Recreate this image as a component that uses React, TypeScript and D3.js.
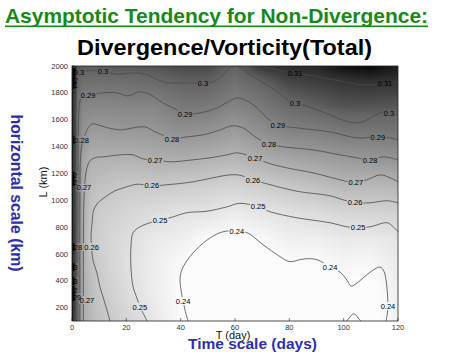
import React, { useMemo } from "react";
import * as d3 from "d3";

// ---------- text ----------
const TITLE = "Asymptotic Tendency for Non-Divergence:";
const SUBTITLE = "Divergence/Vorticity(Total)";
const X_LABEL = "T (day)";
const Y_LABEL = "L (km)";
const X_CAPTION = "Time scale (days)";
const Y_CAPTION = "horizontal scale (km)";

// ---------- axes ----------
const T_TICKS = [0, 20, 40, 60, 80, 100, 120];
const L_TICKS = [200, 400, 600, 800, 1000, 1200, 1400, 1600, 1800, 2000];

// ---------- background field (ratio), rows by L, columns by T ----------
const GRID_T = [0, 1, 2, 4, 7, 10, 15, 20, 30, 40, 50, 60, 70, 80, 90, 100, 110, 120];
const GRID_L = [100, 300, 500, 700, 900, 1100, 1300, 1500, 1700, 1900, 2000];
const ROW_100 = [0.36, 0.31, 0.293, 0.2715, 0.267, 0.263, 0.2593, 0.2557, 0.2484, 0.2408, 0.237, 0.236, 0.236, 0.236, 0.236, 0.237, 0.238, 0.244];
const ROW_300 = [0.36, 0.31, 0.293, 0.2715, 0.2656, 0.261, 0.2567, 0.253, 0.246, 0.2402, 0.237, 0.236, 0.236, 0.237, 0.237, 0.238, 0.238, 0.245];
const ROW_500 = [0.36, 0.31, 0.293, 0.2715, 0.2633, 0.259, 0.255, 0.2515, 0.2457, 0.2405, 0.238, 0.237, 0.238, 0.2395, 0.239, 0.242, 0.2407, 0.247];
const ROW_700 = [0.36, 0.31, 0.293, 0.2715, 0.26, 0.258, 0.2545, 0.252, 0.247, 0.245, 0.24, 0.239, 0.241, 0.2446, 0.245, 0.2472, 0.2468, 0.249];
const ROW_900 = [0.36, 0.31, 0.293, 0.2715, 0.2622, 0.2585, 0.257, 0.255, 0.2522, 0.25, 0.2493, 0.2463, 0.2486, 0.2507, 0.2526, 0.2546, 0.2554, 0.2562];
const ROW_1100 = [0.36, 0.31, 0.293, 0.272, 0.265, 0.2633, 0.2614, 0.26, 0.2597, 0.2588, 0.2574, 0.2561, 0.2581, 0.261, 0.2635, 0.2668, 0.2664, 0.2676];
const ROW_1300 = [0.36, 0.31, 0.293, 0.275, 0.27, 0.2693, 0.2689, 0.2684, 0.27, 0.2704, 0.269, 0.267, 0.2705, 0.2738, 0.2758, 0.2781, 0.2795, 0.28];
const ROW_1500 = [0.36, 0.31, 0.293, 0.281, 0.278, 0.2775, 0.2782, 0.2785, 0.2793, 0.2819, 0.2804, 0.2774, 0.2825, 0.287, 0.2885, 0.2913, 0.292, 0.2928];
const ROW_1700 = [0.36, 0.31, 0.295, 0.287, 0.2863, 0.286, 0.2863, 0.2866, 0.2869, 0.2921, 0.2918, 0.2874, 0.292, 0.2978, 0.3009, 0.3035, 0.3034, 0.3027];
const ROW_1900 = [0.36, 0.315, 0.3, 0.2969, 0.2964, 0.2961, 0.2968, 0.2969, 0.2986, 0.3012, 0.3013, 0.296, 0.3016, 0.3073, 0.3089, 0.3107, 0.3117, 0.3108];
const ROW_2000 = [0.36, 0.318, 0.303, 0.302, 0.302, 0.302, 0.303, 0.303, 0.304, 0.306, 0.306, 0.3, 0.31, 0.312, 0.313, 0.318, 0.32, 0.315];
const GRID_V = [ROW_100, ROW_300, ROW_500, ROW_700, ROW_900, ROW_1100, ROW_1300, ROW_1500, ROW_1700, ROW_1900, ROW_2000];

// ---------- contour lines: [T (day), L (km)] ----------
const LINE_033 = [[0.45, 100], [0.45, 2000]];
const LINE_032 = [[0.7, 100], [0.7, 2000]];
const LINE_031_LEFT = [[1.0, 100], [1.0, 2000]];
const LINE_031 = [[69.9, 2000], [72.9, 1985], [77.3, 1963], [82.1, 1948], [91.3, 1918], [100.5, 1881], [107.9, 1859], [115.2, 1874], [120, 1881]];
const LINE_030 = [[1.5, 100], [1.5, 1003], [1.5, 1747], [1.8, 1896], [2.9, 1948], [5.9, 1963], [11.4, 1963], [14.0, 1948], [16.9, 1940], [23.2, 1948], [28.0, 1933], [31.7, 1896], [35.3, 1874], [39.0, 1874], [44.5, 1874], [48.2, 1874], [51.9, 1881], [55.2, 1926], [58.2, 1985], [60.4, 1996], [62.9, 1978], [65.5, 1933], [69.2, 1888], [72.9, 1844], [76.6, 1792], [79.5, 1747], [82.1, 1725], [85.0, 1710], [90.2, 1673], [95.0, 1636], [100.5, 1591], [104.9, 1576], [107.9, 1591], [110.4, 1621], [114.5, 1658], [116.7, 1651], [120, 1636]];
const LINE_029 = [[2.2, 100], [2.2, 1003], [2.4, 1598], [2.8, 1725], [3.7, 1777], [5.9, 1784], [9.2, 1795], [14.0, 1803], [16.9, 1799], [20.6, 1777], [24.7, 1807], [28.7, 1788], [33.5, 1725], [38.7, 1673], [41.6, 1643], [47.1, 1650], [53.4, 1688], [57.4, 1732], [60.7, 1762], [64.4, 1740], [68.1, 1688], [71.8, 1613], [75.8, 1561], [82.8, 1539], [95.0, 1509], [104.9, 1464], [112.6, 1472], [117.1, 1464], [120, 1450]];
const LINE_028 = [[2.9, 100], [2.9, 1003], [3.1, 1301], [3.7, 1412], [4.8, 1487], [5.9, 1539], [7.7, 1569], [9.6, 1561], [13.3, 1539], [18.0, 1524], [22.5, 1539], [26.9, 1546], [30.6, 1509], [34.2, 1479], [36.8, 1457], [42.3, 1472], [48.2, 1487], [54.5, 1524], [58.9, 1554], [62.9, 1539], [68.1, 1464], [72.5, 1420], [77.7, 1398], [88.7, 1375], [98.7, 1338], [104.9, 1316], [109.7, 1301], [114.5, 1323], [120, 1301]];
const LINE_027 = [[4.2, 100], [4.2, 631], [4.4, 1003], [4.8, 1152], [5.5, 1242], [6.6, 1293], [8.8, 1319], [11.4, 1323], [17.7, 1338], [22.5, 1338], [26.1, 1308], [30.6, 1301], [36.1, 1286], [44.5, 1301], [50.8, 1316], [57.1, 1338], [60.7, 1353], [67.4, 1316], [71.8, 1279], [79.1, 1241], [88.7, 1204], [98.7, 1152], [104.5, 1130], [108.6, 1152], [113.4, 1189], [117.1, 1167], [120, 1137]];
const LINE_026 = [[14.0, 100], [12.1, 234], [10.3, 353], [9.2, 457], [7.7, 554], [7.2, 651], [7.0, 743], [7.4, 832], [7.9, 921], [9.2, 973], [11.8, 1018], [15.8, 1070], [20.2, 1100], [23.9, 1119], [29.4, 1108], [35.0, 1115], [44.5, 1137], [51.9, 1167], [58.2, 1189], [61.8, 1186], [66.6, 1152], [71.8, 1122], [82.8, 1067], [95.0, 1033], [99.8, 1003], [104.2, 981], [109.7, 981], [116.0, 996], [120, 981]];
const LINE_025 = [[27.6, 100], [26.9, 130], [25.0, 205], [23.9, 271], [22.5, 353], [21.7, 502], [21.7, 651], [22.5, 758], [25.0, 802], [29.8, 839], [32.4, 854], [36.1, 869], [42.3, 907], [49.7, 918], [57.1, 951], [61.8, 977], [68.5, 951], [72.9, 914], [82.8, 869], [95.0, 832], [101.2, 802], [105.3, 795], [109.7, 802], [116.0, 832], [118.2, 802], [120, 765]];
const LINE_024 = [[42.7, 100], [41.6, 182], [40.9, 249], [40.1, 334], [39.8, 427], [40.9, 502], [44.5, 606], [49.7, 703], [54.5, 758], [58.2, 772], [60.7, 765], [64.4, 758], [70.3, 669], [76.6, 579], [80.2, 542], [83.9, 557], [86.5, 564], [90.2, 557], [95.0, 502], [98.7, 464], [101.2, 405], [102.7, 360], [104.9, 383], [107.1, 420], [110.8, 479], [113.4, 502], [114.8, 472], [115.6, 405], [116.0, 331], [116.3, 212], [116.0, 145], [115.6, 100]];
const LINE_024_BUMP = [[101.2, 100], [102.3, 130], [103.4, 152], [104.5, 145], [105.6, 115], [106.3, 100]];

// ---------- inline labels: [T, L] ----------
const LAB_031 = [[82.1, 1948], [115.2, 1874]];
const LAB_030 = [[2.6, 1955], [11.4, 1963], [48.2, 1874], [82.1, 1725], [116.7, 1651]];
const LAB_029 = [[5.9, 1784], [41.6, 1643], [75.8, 1561], [112.6, 1472]];
const LAB_028 = [[3.5, 1450], [36.8, 1457], [72.5, 1420], [109.7, 1301]];
const LAB_027 = [[4.4, 1093], [5.5, 256], [30.6, 1301], [67.4, 1316], [104.5, 1130]];
const LAB_026 = [[7.2, 651], [29.4, 1108], [66.6, 1152], [104.2, 981]];
const LAB_025 = [[25.0, 205], [32.4, 854], [68.5, 951], [105.3, 795]];
const LAB_024 = [[40.9, 249], [60.7, 765], [95.0, 502], [116.3, 212]];

// crowded labels at the left edge: only their last digits show beside the dark strip
const EDGE_TEXT = ["2", "1", "2", "2", "28", "3", "3", "2", "29"];
const EDGE_POS = [[1.4, 1896], [1.4, 1859], [1.2, 1182], [1.2, 1137], [2.2, 651], [1.3, 502], [1.3, 398], [1.3, 331], [1.8, 279]];

const LINES = [LINE_033, LINE_032, LINE_031_LEFT, LINE_031, LINE_030, LINE_029, LINE_028, LINE_027, LINE_026, LINE_025, LINE_024, LINE_024_BUMP];
const LABEL_SETS: [string, number[][]][] = [
  ["0.31", LAB_031], ["0.3", LAB_030], ["0.29", LAB_029],
  ["0.28", LAB_028], ["0.27", LAB_027], ["0.26", LAB_026], ["0.25", LAB_025], ["0.24", LAB_024],
];

function field(t: number, l: number): number {
  let i = d3.bisectRight(GRID_T, t) - 1;
  i = Math.max(0, Math.min(GRID_T.length - 2, i));
  let j = d3.bisectRight(GRID_L, l) - 1;
  j = Math.max(0, Math.min(GRID_L.length - 2, j));
  const ft = Math.max(0, Math.min(1, (t - GRID_T[i]) / (GRID_T[i + 1] - GRID_T[i])));
  const fl = Math.max(0, Math.min(1, (l - GRID_L[j]) / (GRID_L[j + 1] - GRID_L[j])));
  const a = GRID_V[j][i] * (1 - ft) + GRID_V[j][i + 1] * ft;
  const b = GRID_V[j + 1][i] * (1 - ft) + GRID_V[j + 1][i + 1] * ft;
  return a * (1 - fl) + b * fl;
}

const FONT = "'Liberation Sans', Arial, Helvetica, sans-serif";

export default function App() {
  const W = 474, H = 355;
  const P = { left: 72, right: 398, top: 66, bottom: 321 };
  const x = d3.scaleLinear().domain([0, 120]).range([P.left, P.right]);
  const y = d3.scaleLinear().domain([100, 2000]).range([P.bottom, P.top]);
  const gray = d3.scaleLinear<number>().domain([0.24, 0.3, 0.32]).range([252, 100, 5]).clamp(true);

  const bg = useMemo(() => {
    const w = P.right - P.left, h = P.bottom - P.top;
    const c = document.createElement("canvas");
    c.width = w; c.height = h;
    const ctx = c.getContext("2d");
    if (!ctx) return "";
    const img = ctx.createImageData(w, h);
    for (let j = 0; j < h; j++) {
      for (let i = 0; i < w; i++) {
        const t = x.invert(P.left + i + 0.5);
        const l = y.invert(P.top + j + 0.5);
        const g = Math.round(gray(field(t, l)));
        const k = (j * w + i) * 4;
        img.data[k] = g; img.data[k + 1] = g; img.data[k + 2] = g; img.data[k + 3] = 255;
      }
    }
    ctx.putImageData(img, 0, 0);
    return c.toDataURL();
  }, []);

  const line = d3.line<number[]>().x(d => x(d[0])).y(d => y(d[1])).curve(d3.curveCatmullRom.alpha(0.5));
  const LFS = 7.5;
  const textW = (s: string) => s.split("").reduce((acc, ch) => acc + (ch === "." ? 0.278 : 0.556), 0) * LFS;
  const labels = LABEL_SETS.flatMap(([txt, pts]) => pts.map(p => ({ txt, cx: x(p[0]), cy: y(p[1]) })));
  const edge = EDGE_TEXT.map((txt, i) => ({ txt, cx: x(EDGE_POS[i][0]), cy: y(EDGE_POS[i][1]) }));
  const allLabels = labels.concat(edge);

  return (
    <svg width={W} height={H} style={{ position: "absolute", left: 0, top: 0, background: "#fff" }} xmlns="http://www.w3.org/2000/svg">
      <defs>
        <clipPath id="plotclip"><rect x={P.left} y={P.top} width={P.right - P.left} height={P.bottom - P.top} /></clipPath>
        <mask id="lblmask" maskUnits="userSpaceOnUse" x={0} y={0} width={W} height={H}>
          <rect x={0} y={0} width={W} height={H} fill="#fff" />
          {allLabels.map((d, i) => (
            <rect key={i} x={d.cx - textW(d.txt) / 2 - 1} y={d.cy - 4} width={textW(d.txt) + 2} height={8} fill="#000" />
          ))}
        </mask>
      </defs>
      <rect x={0} y={0} width={W} height={H} fill="#fff" />

      {/* title */}
      <text x={5} y={23} fontFamily={FONT} fontWeight="bold" fontSize={21} fill="#1a8a1a" textLength={423} lengthAdjust="spacingAndGlyphs">{TITLE}</text>
      <rect x={5} y={25.5} width={423} height={1.6} fill="#1a8a1a" />
      <text x={77} y={55} fontFamily={FONT} fontWeight="bold" fontSize={22} fill="#000" textLength={295} lengthAdjust="spacingAndGlyphs">{SUBTITLE}</text>

      {/* field */}
      {bg && <image href={bg} x={P.left} y={P.top} width={P.right - P.left} height={P.bottom - P.top} preserveAspectRatio="none" />}

      <g clipPath="url(#plotclip)">
        <g mask="url(#lblmask)">
          {LINES.map((pts, i) => (
            <path key={i} d={line(pts) || ""} fill="none" stroke="#4a4a4a" strokeWidth={0.8} />
          ))}
        </g>
        {allLabels.map((d, i) => (
          <text key={i} x={d.cx} y={d.cy} dy="0.36em" textAnchor="middle" fontFamily={FONT} fontSize={LFS} fill="#000">{d.txt}</text>
        ))}
      </g>

      {/* frame and ticks */}
      <rect x={P.left} y={P.top} width={P.right - P.left} height={P.bottom - P.top} fill="none" stroke="#222" strokeWidth={0.8} />
      {T_TICKS.map(t => (
        <g key={"t" + t}>
          <line x1={x(t)} x2={x(t)} y1={P.bottom} y2={P.bottom - 3} stroke="#222" strokeWidth={0.6} />
          <text x={x(t)} y={330} textAnchor="middle" fontFamily={FONT} fontSize={7.5} fill="#333">{t}</text>
        </g>
      ))}
      {L_TICKS.map(l => (
        <g key={"l" + l}>
          <line x1={P.left} x2={P.left + 3} y1={y(l)} y2={y(l)} stroke="#222" strokeWidth={0.6} />
          <text x={68} y={y(l)} dy="0.35em" textAnchor="end" fontFamily={FONT} fontSize={7.5} fill="#333">{l}</text>
        </g>
      ))}

      {/* axis labels */}
      <text transform="translate(47,182) rotate(-90)" textAnchor="middle" fontFamily={FONT} fontSize={11} fill="#111">{Y_LABEL}</text>
      <text x={233} y={339} textAnchor="middle" fontFamily={FONT} fontSize={11} fill="#111">{X_LABEL}</text>
      <text transform="translate(11,193) rotate(90)" textAnchor="middle" fontFamily={FONT} fontWeight="bold" fontSize={16} fill="#2f2fb4" textLength={157} lengthAdjust="spacingAndGlyphs">{Y_CAPTION}</text>
      <text x={188} y={349} fontFamily={FONT} fontWeight="bold" fontSize={15.5} fill="#2f2fb4" textLength={129} lengthAdjust="spacingAndGlyphs">{X_CAPTION}</text>
    </svg>
  );
}
